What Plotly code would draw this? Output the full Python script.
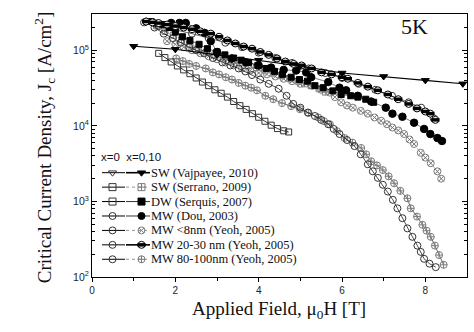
import plotly.graph_objects as go

# ---------------- data ----------------
# SW (Vajpayee, 2010), x=0.10
vaj_x = [1.0, 2.0, 3.0, 4.0, 5.0, 6.0, 7.0, 8.0, 8.9]
vaj_y = [1.13e5, 1.03e5, 8.7e4, 7.4e4, 6.2e4, 5.0e4, 4.5e4, 4.0e4, 3.6e4]

# SW (Serrano, 2009), x=0
ser0_x = [1.6, 1.75, 1.9, 2.05, 2.2, 2.35, 2.5, 2.65, 2.8, 2.95, 3.1, 3.25, 3.4,
          3.55, 3.7, 3.85, 4.0, 4.15, 4.3, 4.45, 4.6, 4.72]
ser0_y = [9.1e4, 8.0e4, 7.0e4, 6.2e4, 5.5e4, 4.9e4, 4.3e4, 3.8e4, 3.4e4, 3.0e4, 2.7e4,
          2.4e4, 2.1e4, 1.85e4, 1.65e4, 1.45e4, 1.3e4, 1.15e4, 1.02e4, 9.2e3, 8.6e3, 8.3e3]

# SW (Serrano, 2009), x=0.10
ser1_x = [1.55, 1.75, 1.95, 2.15, 2.35, 2.55, 2.75, 2.95, 3.15, 3.35, 3.55, 3.75, 3.95,
          4.15, 4.35, 4.55, 4.75, 4.95, 5.1, 5.26, 5.45, 5.6]
ser1_y = [2.1e5, 1.78e5, 1.58e5, 1.38e5, 1.2e5, 1.07e5, 9.5e4, 8.7e4, 7.9e4, 7.2e4, 6.8e4,
          6.3e4, 5.9e4, 5.5e4, 5.0e4, 4.6e4, 4.2e4, 3.9e4, 3.6e4, 3.4e4, 3.1e4, 2.8e4]

# DW (Serquis, 2007), x=0.10
sq_x = [1.42, 1.55, 1.7, 1.85, 2.0, 2.17, 2.35, 2.57, 2.77, 3.0, 3.19, 3.4, 3.58, 3.76,
        3.98, 4.18, 4.38, 4.57, 4.78, 4.98, 5.17, 5.35, 5.55, 5.78, 5.98, 6.21, 6.38,
        6.57, 6.76]
sq_y = [2.4e5, 2.29e5, 2.19e5, 2.0e5, 1.74e5, 1.51e5, 1.35e5, 1.2e5, 1.05e5, 9.5e4, 8.7e4,
        7.9e4, 7.4e4, 6.9e4, 6.3e4, 5.75e4, 5.25e4, 4.8e4, 4.4e4, 4.1e4, 3.9e4, 3.4e4,
        3.2e4, 2.9e4, 2.6e4, 2.5e4, 2.4e4, 2.25e4, 2.05e4]

# MW (Dou, 2003), x=0.10
dou_x = [1.9, 2.1, 2.25, 2.5, 2.7, 2.85, 3.0, 3.35, 3.7, 4.0, 4.3, 4.6, 4.9, 5.14, 5.26,
         5.67, 5.94, 6.1, 6.38, 6.7, 7.05, 7.21, 7.45, 7.73, 7.97, 8.12, 8.29, 8.4]
dou_y = [2.3e5, 2.3e5, 2.3e5, 1.95e5, 1.7e5, 1.32e5, 9.5e4, 7.8e4, 6.9e4, 6.3e4, 5.9e4,
         5.5e4, 5.4e4, 5.1e4, 4.4e4, 3.8e4, 3.2e4, 2.95e4, 2.5e4, 2.1e4, 1.74e4, 1.45e4,
         1.32e4, 1.1e4, 9.1e3, 7.8e3, 6.9e3, 6.3e3]

# MW <8nm (Yeoh, 2005), x=0.10
y8_x = [1.8, 2.0, 2.2, 2.4, 2.6, 2.8, 3.0, 3.2, 3.4, 3.6, 3.8, 4.0, 4.2, 4.4, 4.6, 4.8,
        5.0, 5.27, 5.5, 5.71, 5.83, 5.98, 6.12, 6.26, 6.45, 6.62, 6.78, 6.94, 7.08, 7.21,
        7.35, 7.49, 7.62, 7.73, 7.89, 8.0, 8.13, 8.29, 8.38]
y8_y = [1.32e5, 1.2e5, 1.1e5, 1.0e5, 9.1e4, 8.3e4, 7.6e4, 6.9e4, 6.3e4, 5.75e4, 5.4e4,
        5.0e4, 4.8e4, 4.5e4, 4.2e4, 3.9e4, 3.6e4, 3.4e4, 3.0e4, 2.75e4, 2.4e4, 2.05e4,
        1.86e4, 1.74e4, 1.58e4, 1.45e4, 1.29e4, 1.17e4, 1.05e4, 9.5e3, 8.7e3, 7.8e3,
        6.6e3, 5.75e3, 4.4e3, 3.8e3, 3.2e3, 2.5e3, 2.0e3]

# MW 20-30 nm (Yeoh, 2005), x=0.10
y20_x = [1.3, 1.45, 1.6, 1.8, 2.0, 2.2, 2.4, 2.6, 2.85, 3.05, 3.25, 3.44, 3.64, 3.84,
         4.04, 4.24, 4.44, 4.64, 4.84, 5.03, 5.27, 5.51, 5.75, 6.0, 6.14, 6.38, 6.62,
         6.86, 7.1, 7.35, 7.6, 7.8, 8.0, 8.12, 8.24]
y20_y = [2.4e5, 2.34e5, 2.29e5, 2.19e5, 2.09e5, 2.0e5, 1.9e5, 1.78e5, 1.66e5, 1.51e5,
         1.35e5, 1.23e5, 1.12e5, 1.05e5, 9.5e4, 8.7e4, 7.8e4, 7.1e4, 6.6e4, 6.3e4, 5.75e4,
         5.1e4, 4.8e4, 4.4e4, 4.2e4, 3.7e4, 3.3e4, 2.95e4, 2.6e4, 2.25e4, 1.95e4, 1.7e4,
         1.55e4, 1.45e4, 1.2e4]

# MW 20-30 nm (Yeoh, 2005), x=0
y20o_x = [1.25, 1.6, 2.0, 2.4, 2.8, 3.2, 3.6, 4.0, 4.4, 4.8, 5.2, 5.6, 6.0, 6.4, 6.8,
          7.2, 7.6, 7.9, 8.2]
y20o_y = [2.34e5, 2.09e5, 1.86e5, 1.66e5, 1.45e5, 1.26e5, 1.1e5, 9.3e4, 7.9e4, 6.8e4,
          5.75e4, 5.0e4, 4.3e4, 3.6e4, 3.0e4, 2.5e4, 2.05e4, 1.74e4, 1.26e4]

# MW 80-100nm (Yeoh, 2005), x=0.10
y80_x = [2.02, 2.18, 2.33, 2.5, 2.73, 2.9, 3.05, 3.21, 3.36, 3.52, 3.68, 3.82, 3.96, 4.16,
         4.35, 4.56, 4.78, 4.99, 5.2, 5.43, 5.57, 5.71, 5.88, 6.06, 6.25, 6.46, 6.58,
         6.7, 6.84, 6.98, 7.12, 7.25, 7.4, 7.57, 7.65, 7.8, 7.93, 8.03, 8.13, 8.23,
         8.33, 8.44]
y80_y = [7.8e4, 7.2e4, 6.6e4, 6.2e4, 5.75e4, 5.1e4, 4.8e4, 4.4e4, 4.1e4, 3.7e4, 3.4e4,
         3.2e4, 2.95e4, 2.5e4, 2.25e4, 2.0e4, 1.82e4, 1.66e4, 1.48e4, 1.29e4, 1.15e4,
         1.05e4, 8.5e3, 6.9e3, 6.0e3, 5.1e3, 4.2e3, 3.4e3, 3.0e3, 2.6e3, 2.15e3, 1.74e3,
         1.38e3, 1.1e3, 8.1e2, 6.3e2, 4.9e2, 4.1e2, 3.4e2, 2.6e2, 1.95e2, 1.45e2]

# MW 80-100nm (Yeoh, 2005), x=0
y80o_x = [1.3, 1.5, 1.72, 1.94, 2.13, 2.33, 2.5, 2.69, 2.9, 3.13, 3.32, 3.52, 3.68, 3.84,
          4.04, 4.24, 4.48, 4.67, 4.83, 5.0, 5.18, 5.35, 5.5, 5.67, 5.8, 5.94, 6.12, 6.3,
          6.45, 6.62, 6.74, 6.86, 6.98, 7.1, 7.22, 7.33, 7.45, 7.57, 7.69, 7.81, 7.89,
          7.97, 8.1, 8.25]
y80o_y = [2.4e5, 2.0e5, 1.66e5, 1.45e5, 1.26e5, 1.1e5, 1.0e5, 9.1e4, 7.9e4, 6.9e4, 6.3e4,
          5.75e4, 5.25e4, 4.7e4, 4.1e4, 3.6e4, 3.1e4, 2.5e4, 1.95e4, 1.74e4, 1.5e4, 1.35e4,
          1.2e4, 1.05e4, 9.1e3, 7.8e3, 6.5e3, 5.4e3, 4.2e3, 3.1e3, 2.5e3, 2.05e3, 1.66e3,
          1.35e3, 1.05e3, 8.1e2, 6.0e2, 4.4e2, 3.4e2, 2.6e2, 2.15e2, 1.74e2, 1.5e2, 1.35e2]

x_tick_vals = [0, 2, 4, 6, 8]
y_tick_vals = [1e2, 1e3, 1e4, 1e5]
y_tick_text = ["10<sup>2</sup>", "10<sup>3</sup>", "10<sup>4</sup>", "10<sup>5</sup>"]

legend_labels = ["SW (Vajpayee, 2010)", "SW (Serrano, 2009)", "DW (Serquis, 2007)",
                 "MW (Dou, 2003)", "MW <8nm (Yeoh, 2005)", "MW 20-30 nm (Yeoh, 2005)",
                 "MW 80-100nm (Yeoh, 2005)"]
legend_open = ["triangle-down-open", "square-open", "square-open", "circle-open",
               "circle-open", "circle-open", "circle-open"]
legend_filled = ["triangle-down", "square-cross-open", "square", "circle",
                 "circle-x-open", "half", "circle-cross-open"]

GRAY = "#7a7a7a"
BLK = "#000000"
DK = "#333333"

fig = go.Figure()


def add(x, y, symbol, color, size=7, lw=0.7, lcolor=BLK, dash="solid", xa="x", ya="y",
        mode="lines+markers"):
    if symbol == "half":
        # half-filled circle: open circle with a dark band through its upper part
        fig.add_trace(go.Scatter(x=x, y=y, mode=mode, showlegend=False, xaxis=xa, yaxis=ya,
                                 line=dict(color=lcolor, width=lw, dash=dash),
                                 marker=dict(symbol="circle", size=size, color="white",
                                             line=dict(color=BLK, width=1))))
        fig.add_trace(go.Scatter(x=x, y=y, mode="markers", showlegend=False, xaxis=xa,
                                 yaxis=ya,
                                 marker=dict(symbol="line-ew-open", size=size - 1, color=BLK,
                                             line=dict(color=BLK, width=3.5))))
        return
    if symbol.endswith("-open"):
        m = dict(symbol=symbol, size=size, color=color, line=dict(width=1))
    else:
        m = dict(symbol=symbol, size=size, color=color, line=dict(color=color, width=1))
    fig.add_trace(go.Scatter(x=x, y=y, mode=mode, showlegend=False, xaxis=xa, yaxis=ya,
                             line=dict(color=lcolor, width=lw, dash=dash), marker=m))


# gray crossed markers first
add(ser1_x, ser1_y, "square-cross-open", GRAY, size=6, lw=0.6, lcolor=GRAY, dash="dot")
add(y8_x, y8_y, "circle-x-open", GRAY, size=7, lw=0.6, lcolor=GRAY, dash="dot")
add(y80_x, y80_y, "circle-cross-open", GRAY, size=7, lw=0.6, lcolor=BLK)
# open markers
add(y80o_x, y80o_y, "circle-open", DK, size=7, lw=0.7)
add(y20o_x, y20o_y, "circle-open", DK, size=7, lw=0.6)
add(ser0_x, ser0_y, "square-open", DK, size=6, lw=0.8)
# filled markers
add(sq_x, sq_y, "square", BLK, size=6, lw=0.6)
add(dou_x, dou_y, "circle", BLK, size=7.5, lw=0.5)
add(y20_x, y20_y, "half", BLK, size=7, lw=0.8)
add(vaj_x, vaj_y, "triangle-down", BLK, size=7, lw=1.1)

# ---------------- custom two-column legend (overlay pixel axes) ----------------
row0 = 172.7
step = 14.43
for i, lab in enumerate(legend_labels):
    yy = row0 + step * i
    fig.add_trace(go.Scatter(x=[102, 125], y=[yy, yy], mode="lines", xaxis="x2", yaxis="y2",
                             showlegend=False, line=dict(color=BLK, width=1)))
    add([112.5], [yy], legend_open[i], DK, size=7, xa="x2", ya="y2", mode="markers")
    sym = legend_filled[i]
    gray = sym.endswith("cross-open") or sym.endswith("x-open")
    lc = GRAY if gray else BLK
    lw = 1.6 if i in (0, 5) else 0.8
    fig.add_trace(go.Scatter(x=[126, 150], y=[yy, yy], mode="lines", xaxis="x2", yaxis="y2",
                             showlegend=False,
                             line=dict(color=lc, width=lw, dash="dot" if gray else "solid")))
    add([141.5], [yy], sym, GRAY if gray else BLK, size=7, xa="x2", ya="y2", mode="markers")
    fig.add_annotation(x=149, y=yy, xref="x2", yref="y2", text=lab, showarrow=False,
                       xanchor="left", yanchor="middle",
                       font=dict(family="Liberation Serif", size=12.5, color="#111111"))

fig.add_annotation(x=99, y=157, xref="x2", yref="y2", text="x=0  x=0,10", showarrow=False,
                   xanchor="left", yanchor="middle",
                   font=dict(family="Liberation Sans", size=11.5, color="#111111"))

# ---------------- layout ----------------
fig.add_annotation(x=0.859, y=0.951, xref="paper", yref="paper", text="5K", showarrow=False,
                   xanchor="center", yanchor="middle",
                   font=dict(family="Liberation Serif", size=22, color="#111111"))
fig.add_annotation(x=-0.128, y=0.49, xref="paper", yref="paper", textangle=-90,
                   text="Critical Current Density, J<sub>c</sub> [A/cm<sup>2</sup>]",
                   showarrow=False, xanchor="center", yanchor="middle",
                   font=dict(family="Liberation Serif", size=19, color="#111111"))
fig.add_annotation(x=0.499, y=-0.1255, xref="paper", yref="paper",
                   text="Applied Field, \u03bc<sub>0</sub>H [T]",
                   showarrow=False, xanchor="center", yanchor="middle",
                   font=dict(family="Liberation Serif", size=19, color="#111111"))

minor_y = [m * 10 ** e for e in (2, 3, 4) for m in range(2, 10)] + [2e5, 3e5]

fig.update_layout(
    width=474, height=332,
    margin=dict(l=92, r=7, t=14, b=55),
    paper_bgcolor="white", plot_bgcolor="white",
    showlegend=False,
    xaxis=dict(range=[0, 9], tickvals=x_tick_vals, ticks="outside", ticklen=4,
               tickcolor=BLK, showline=True, linecolor=BLK, linewidth=1, mirror=True,
               showgrid=False, zeroline=False,
               tickfont=dict(family="Liberation Sans", size=10, color="#222222"),
               minor=dict(tickvals=[1, 3, 5, 7], ticks="outside", ticklen=3, tickcolor=BLK)),
    yaxis=dict(type="log", range=[2, 5.48], tickvals=y_tick_vals, ticktext=y_tick_text,
               ticks="inside", ticklen=5, tickcolor=BLK, showline=True, linecolor=BLK,
               linewidth=1, mirror="ticks", showgrid=False, zeroline=False,
               tickfont=dict(family="Liberation Sans", size=10.5, color="#222222"),
               minor=dict(tickvals=minor_y, ticks="inside", ticklen=3, tickcolor=BLK)),
    xaxis2=dict(range=[92, 467], overlaying="x", visible=False, anchor="y2"),
    yaxis2=dict(range=[277, 14], overlaying="y", visible=False, anchor="x2"),
)

fig.write_html("out.html")
